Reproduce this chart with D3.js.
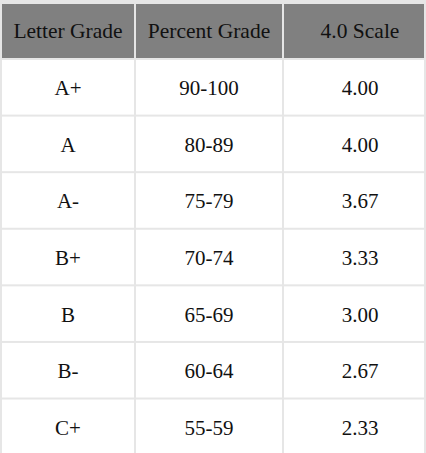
<!DOCTYPE html>
<html><head><meta charset="utf-8">
<script src="https://cdn.jsdelivr.net/npm/d3@7"></script>
<style>body{margin:0;background:#fff}text{font-family:"Liberation Serif",serif}</style>
</head><body><div id="chart"></div>
<script>
const headers = ["Letter Grade", "Percent Grade", "4.0 Scale"];
const letters = ["A+", "A", "A-", "B+", "B", "B-", "C+"];
const percents = ["90-100", "80-89", "75-79", "70-74", "65-69", "60-64", "55-59"];
const scale = ["4.00", "4.00", "3.67", "3.33", "3.00", "2.67", "2.33"];

const width = 426, height = 453;
const svg = d3.select("#chart").append("svg").attr("width", width).attr("height", height);
svg.append("rect").attr("width", width).attr("height", height).attr("fill", "#e6e6e6");

const colEdges = [2, 136, 284, 424];
const gap = 2;
const headerTop = 4, headerH = 54;
const rowTop = headerTop + headerH + gap;
const rowH = 54.3;

const rows = letters.map((l, i) => [l, percents[i], scale[i]]);
const y = d3.scaleBand().domain(d3.range(rows.length)).range([rowTop, rowTop + rows.length * (rowH + gap)]).paddingInner(gap / (rowH + gap));
const colX = i => colEdges[i];
const colW = i => colEdges[i + 1] - colEdges[i] - (i < 2 ? gap : 0);

// header
headers.forEach((h, i) => {
  svg.append("rect").attr("x", colX(i)).attr("y", headerTop).attr("width", colW(i)).attr("height", headerH).attr("fill", "#808080");
  svg.append("text").attr("x", colX(i) + colW(i) / 2 + (i === 2 ? 6 : 0)).attr("y", headerTop + headerH / 2 + 7)
    .attr("text-anchor", "middle").attr("font-size", 21.5).attr("fill", "#111").text(h);
});

rows.forEach((r, ri) => {
  r.forEach((v, ci) => {
    svg.append("rect").attr("x", colX(ci)).attr("y", y(ri)).attr("width", colW(ci)).attr("height", y.bandwidth()).attr("fill", "#fff");
    svg.append("text").attr("x", colX(ci) + colW(ci) / 2 + (ci === 2 ? 6 : 0)).attr("y", y(ri) + y.bandwidth() / 2 + 8)
      .attr("text-anchor", "middle").attr("font-size", 21).attr("fill", "#111").text(v);
  });
});
</script></body></html>
